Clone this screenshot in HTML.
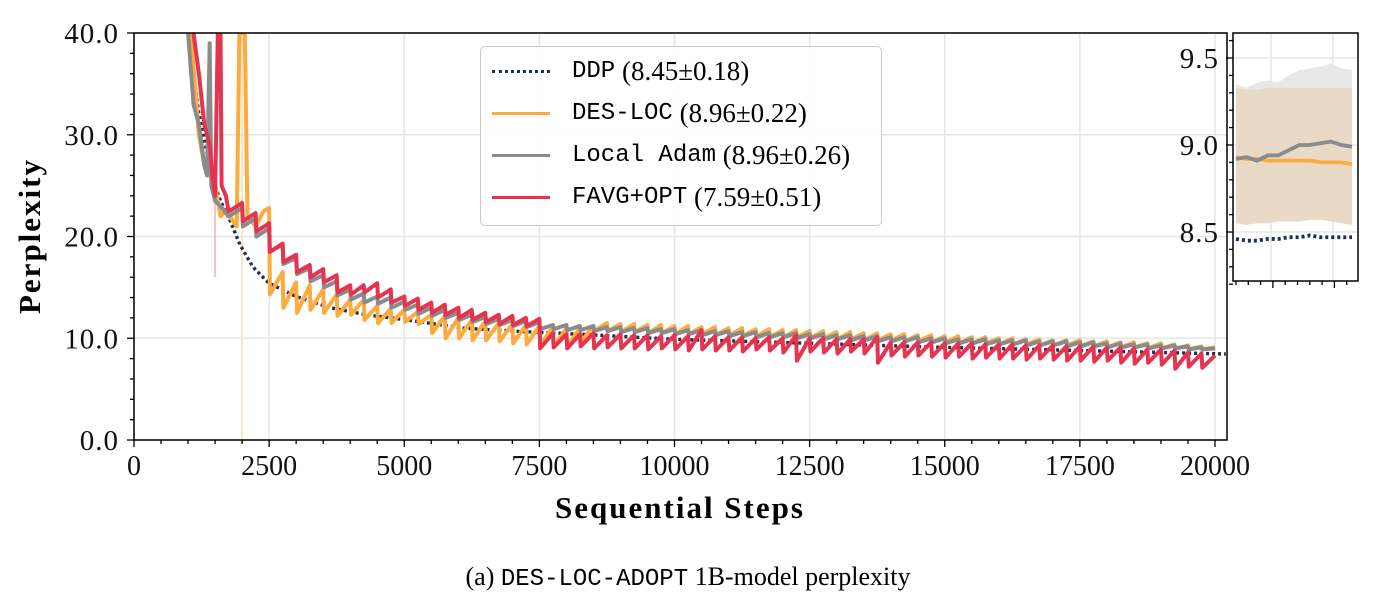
<!DOCTYPE html>
<html><head><meta charset="utf-8">
<style>
html,body{margin:0;padding:0;background:#fff;}
svg{display:block;}
.tk{font-family:"Liberation Serif",serif;font-size:29px;fill:#111;}
.tkx{font-family:"Liberation Serif",serif;font-size:28px;fill:#111;}
.lm{font-family:'Liberation Mono',monospace;font-size:24px;vertical-align:middle;}
.ls{font-family:'Liberation Serif',serif;font-size:27px;vertical-align:middle;}
.ln{display:inline-block;width:58px;vertical-align:middle;}
</style></head>
<body>
<svg id="chart" width="1376" height="597" xmlns="http://www.w3.org/2000/svg"></svg>
<script>
// ---- data ----
const xTicks = [0,2500,5000,7500,10000,12500,15000,17500,20000];
const yTicks = [0,10,20,30,40];
const ddpSteps = [1000,1100,1200,1300,1400,1500,1600,1800,1960,2200,2500,3000,3630,4300,5050,6090,7000,8250,10000,12500,15000,17500,20200];
const ddpVals  = [40,36,32,29.5,27,25,23.5,21.3,19.2,17,15.4,14.1,13.0,12.3,11.8,11.0,10.7,10.4,9.9,9.5,9.1,8.8,8.45];
const redEarlySteps = [1100,1200,1300,1400,1450,1500,1550,1600,1620,1700,1750];
const redEarlyVals  = [40,36,31,29,26,24,40,40,25,24,22.5];
const grayEarlySteps = [1000,1100,1200,1300,1350,1400,1430,1500,1600,1750];
const grayEarlyVals  = [40,33,31,27,26,39,25,23.5,23,22];
const orangeEarlySteps = [1050,1200,1300,1400,1500,1600,1700,1900,1950,2050,2100,2250,2400,2500];
const orangeEarlyVals  = [40,30,27,26,25,22,22.5,21,40,40,22,21,22.5,22.8];
const toothPeriod = 250;
const redStart = 1750;
const redLow = [22.5,21.5,20.5,18.5,17.5,16.5,16.0,15.5,14.5,14.3,14.5,14.0,13.5,13.2,12.8,12.5,12.3,12.0,11.8,11.6,11.4,11.3,11.2,
 9.0,9.1,9.0,9.2,9.0,9.1,9.0,9.0,8.9,9.0,
 8.9,8.8,8.9,8.8,8.8,8.7,8.9,8.8,8.6,7.8,
 8.7,8.6,8.5,8.7,8.5,7.6,8.3,8.2,8.3,8.2,
 8.1,8.2,8.0,8.1,8.0,8.0,7.9,8.0,7.9,7.8,
 7.8,7.7,7.8,7.6,7.5,7.6,7.4,7.0,7.2,7.1];
const redHigh = [23.3,22.3,21.3,19.3,18.2,17.2,16.8,16.2,15.2,15.2,15.4,14.8,14.1,13.9,13.5,13.3,13.0,12.8,12.5,12.3,12.2,12.0,11.9,
 10.5,10.4,10.4,10.5,10.3,10.4,10.3,10.3,10.2,10.3,
 10.2,10.8,10.2,10.1,10.1,10.0,10.1,10.0,10.3,10.0,
 10.0,9.9,9.9,9.9,10.1,9.6,9.6,9.6,9.6,9.5,
 9.5,9.5,9.4,9.4,9.4,9.3,9.3,9.3,9.2,9.2,
 9.2,9.1,9.1,9.0,8.9,8.9,8.8,8.6,8.5,8.3];
const grayStart = 1750;
const grayLow = [22,21,20,18.5,17.3,16.3,15.6,15.0,14.2,13.8,13.5,13.4,13.0,12.8,12.4,12.2,12.0,11.8,11.6,11.4,11.3,11.2,11.1,
 10.9,10.9,10.8,10.8,10.7,10.7,10.6,10.6,10.5,10.5,
 10.4,10.4,10.3,10.3,10.2,10.2,10.1,10.1,10.1,10.0,
 10.0,9.9,9.9,9.8,9.8,9.7,9.7,9.7,9.6,9.6,
 9.5,9.5,9.5,9.4,9.4,9.4,9.3,9.3,9.3,9.2,
 9.2,9.2,9.1,9.1,9.1,9.0,9.0,9.0,8.9,8.9];
const grayHigh = [22.8,21.8,20.8,19.2,17.9,16.9,16.2,15.6,14.8,14.4,14.1,14.0,13.6,13.3,13.0,12.8,12.5,12.3,12.1,11.9,11.8,11.7,11.6,
 11.3,11.3,11.2,11.2,11.1,11.1,11.0,11.0,10.9,10.9,
 10.8,10.8,10.7,10.7,10.6,10.6,10.5,10.5,10.5,10.4,
 10.4,10.3,10.3,10.2,10.2,10.1,10.1,10.1,10.0,10.0,
 9.9,9.9,9.9,9.8,9.8,9.8,9.7,9.7,9.7,9.6,
 9.6,9.5,9.5,9.4,9.4,9.3,9.3,9.2,9.1,9.0];
const orangeStart = 2500;
const orangeLow = [14.3,13.0,12.5,12.8,12.5,12.2,12.3,11.8,11.5,11.5,11.6,11.4,10.5,10.0,10.0,9.8,9.8,9.7,9.5,9.4,9.3,9.2,9.2,9.6,
 10.7,10.7,10.6,10.6,10.5,10.5,10.4,10.4,10.4,10.3,
 10.3,10.2,10.2,10.1,10.1,10.1,10.0,10.0,9.9,9.9,
 9.8,9.8,9.8,9.7,9.7,9.6,9.6,9.5,9.5,9.5,
 9.4,9.4,9.4,9.3,9.3,9.3,9.2,9.2,9.1,9.1,
 9.1,9.0,9.0,9.0,8.9,8.9];
const orangeHigh = [16.5,15.5,15.2,14.8,14.3,13.8,13.8,13.2,12.9,12.8,12.6,12.3,12.2,12.0,11.8,11.7,11.5,11.4,11.3,11.2,11.1,11.0,11.0,11.2,
 11.5,11.4,11.4,11.3,11.3,11.2,11.2,11.1,11.1,11.0,
 11.0,10.9,10.9,10.8,10.8,10.7,10.7,10.6,10.6,10.5,
 10.5,10.4,10.4,10.3,10.3,10.2,10.2,10.1,10.1,10.0,
 10.0,9.9,9.9,9.8,9.8,9.8,9.7,9.7,9.6,9.6,
 9.5,9.5,9.4,9.3,9.2,9.1];
// inset
const insetTicks = [8.5,9.0,9.5];
const insetGray   = [8.92,8.93,8.91,8.94,8.94,8.97,9.0,9.0,9.01,9.02,9.0,8.99];
const insetOrange = [8.93,8.92,8.92,8.91,8.91,8.91,8.91,8.91,8.9,8.9,8.9,8.89];
const insetDDP    = [8.46,8.45,8.45,8.46,8.46,8.47,8.47,8.48,8.47,8.47,8.47,8.47];
const insetOrangeUp = [9.33,9.32,9.32,9.33,9.33,9.33,9.33,9.33,9.33,9.33,9.33,9.33];
const insetOrangeLo = [8.55,8.54,8.55,8.55,8.56,8.56,8.56,8.57,8.57,8.56,8.55,8.54];
const insetGrayUp = [9.35,9.33,9.36,9.37,9.36,9.40,9.43,9.44,9.45,9.47,9.44,9.43];

// ---- scales ----
const L=134,R=1227,T=33,B=440;
const X=s=>L+s*1081/20000;
const Y=v=>B-v*10.175;
const IL=1233,IR=1358,IT=33,IB=281;
const IX=i=>1236+i*(1352-1236)/11;
const IY=v=>145-(v-9.0)*174;

const NS='http://www.w3.org/2000/svg';
const svg=document.getElementById('chart');
function mk(tag,attrs,parent){const e=document.createElementNS(NS,tag);for(const k in attrs)e.setAttribute(k,attrs[k]);(parent||svg).appendChild(e);return e;}

const defs=mk('defs',{});
const cp=mk('clipPath',{id:'mainclip'},defs);mk('rect',{x:L,y:T,width:R-L,height:B-T},cp);
const cp2=mk('clipPath',{id:'insclip'},defs);mk('rect',{x:IL,y:IT,width:IR-IL,height:IB-IT},cp2);

const grid=mk('g',{});


xTicks.forEach(t=>mk('line',{x1:X(t),x2:X(t),y1:T,y2:B,stroke:'#e6e6e6','stroke-width':1.5},grid));
yTicks.forEach(t=>mk('line',{x1:L,x2:R,y1:Y(t),y2:Y(t),stroke:'#e6e6e6','stroke-width':1.5},grid));

const plot=mk('g',{'clip-path':'url(#mainclip)'});


mk('line',{x1:X(2000),x2:X(2000),y1:Y(40),y2:Y(0),stroke:'#fde3c0','stroke-width':2},plot);
mk('line',{x1:X(1500),x2:X(1500),y1:Y(25),y2:Y(16),stroke:'#f2b0bb','stroke-width':1.5},plot);

function pts(steps,vals){return steps.map((s,i)=>X(s).toFixed(1)+','+Y(vals[i]).toFixed(1));}
function teeth(start,low,high){const p=[];for(let i=0;i<low.length;i++){const s=start+i*toothPeriod;p.push(X(s+15).toFixed(1)+','+Y(low[i]).toFixed(1));p.push(X(s+toothPeriod).toFixed(1)+','+Y(high[i]).toFixed(1));}return p;}

const ddp=mk('polyline',{points:pts(ddpSteps,ddpVals).join(' '),fill:'none',stroke:'#1f2f4d','stroke-width':3.4,'stroke-dasharray':'3,3'},plot);


const or=mk('polyline',{points:pts(orangeEarlySteps,orangeEarlyVals).concat(teeth(orangeStart,orangeLow,orangeHigh)).join(' '),fill:'none',stroke:'#fbab40','stroke-width':4,'stroke-linejoin':'round'},plot);


const gr=mk('polyline',{points:pts(grayEarlySteps,grayEarlyVals).concat(teeth(grayStart,grayLow,grayHigh)).join(' '),fill:'none',stroke:'#8b8b8b','stroke-width':4,'stroke-linejoin':'round'},plot);


const rd=mk('polyline',{points:pts(redEarlySteps,redEarlyVals).concat(teeth(redStart,redLow,redHigh)).join(' '),fill:'none',stroke:'#e5344f','stroke-width':4,'stroke-linejoin':'round'},plot);



mk('rect',{x:L,y:T,width:R-L,height:B-T,fill:'none',stroke:'#000','stroke-width':1.5});
for(let s=0;s<=20000;s+=500){const maj=s%2500===0;mk('line',{x1:X(s),x2:X(s),y1:B,y2:B+(maj?7:4),stroke:'#000','stroke-width':1.3});}
for(let v=0;v<=40;v+=2){const maj=v%10===0;mk('line',{x1:L,x2:L-(maj?7:4),y1:Y(v),y2:Y(v),stroke:'#000','stroke-width':1.3});}
xTicks.forEach(t=>{const e=mk('text',{x:X(t),y:475,'text-anchor':'middle',class:'tkx'});e.textContent=t;

});
yTicks.forEach(t=>{const e=mk('text',{x:119,y:Y(t)+10,'text-anchor':'end',class:'tk','letter-spacing':'1'});e.textContent=t.toFixed(1);

});

const ins=mk('g',{});


mk('rect',{x:IL,y:IT,width:IR-IL,height:IB-IT,fill:'#fff'},ins);
[1271,1333].forEach(x=>mk('line',{x1:x,x2:x,y1:IT,y2:IB,stroke:'#e6e6e6','stroke-width':1.5},ins));
insetTicks.forEach(v=>mk('line',{x1:IL,x2:IR,y1:IY(v),y2:IY(v),stroke:'#e6e6e6','stroke-width':1.5},ins));
const ig=mk('g',{'clip-path':'url(#insclip)'},ins);
const band=(up,lo,fill)=>mk('polygon',{points:up.map((v,i)=>IX(i)+','+IY(v)).concat(lo.map((v,i)=>IX(i)+','+IY(v)).reverse()).join(' '),fill:fill},ig);
const gb=band(insetGrayUp,insetOrangeUp,'#e8e8e8');


const ob=band(insetOrangeUp,insetOrangeLo,'#e9dac8');


const il=(vals,stroke,dash)=>mk('polyline',{points:vals.map((v,i)=>IX(i)+','+IY(v)).join(' '),fill:'none',stroke:stroke,'stroke-width':3.8,'stroke-dasharray':dash||'none'},ig);
const idd=il(insetDDP,'#1f2f4d','3,3');


const io=il(insetOrange,'#fbab40');


const igr=il(insetGray,'#8b8b8b');


mk('rect',{x:IL,y:IT,width:IR-IL,height:IB-IT,fill:'none',stroke:'#000','stroke-width':1.5},ins);
for(let v=8.2;v<=9.65;v+=0.1){const maj=Math.abs(v*2-Math.round(v*2))<0.01;mk('line',{x1:IL,x2:IL-(maj?7:4),y1:IY(v),y2:IY(v),stroke:'#000','stroke-width':1.3},ins);}
for(let i=0;i<10;i++){const x=1236+i*12.3;const maj=(i===3||i===8);mk('line',{x1:x,x2:x,y1:IB,y2:IB+(maj?7:4),stroke:'#000','stroke-width':1.3},ins);}
insetTicks.forEach(v=>{const e=mk('text',{x:1219,y:IY(v)+10,'text-anchor':'end',class:'tk','letter-spacing':'1'},ins);e.textContent=v.toFixed(1);

});
</script>

<div style="position:absolute;left:480px;top:46px;width:402px;height:180px;border:1.5px solid #ccc;border-radius:5px;background:rgba(255,255,255,0.9);box-sizing:border-box;">
 <div style="position:absolute;left:11px;top:9px;white-space:nowrap;">
  <span class="ln" style="border-top:3.5px dotted #1f2f4d;"></span>
  <span class="lm" style="margin-left:18px;">DDP</span><span class="ls"> (8.45±0.18)</span></div>
 <div style="position:absolute;left:11px;top:51px;white-space:nowrap;">
  <span class="ln" style="border-top:3.5px solid #fbab40;"></span>
  <span class="lm" style="margin-left:18px;">DES-LOC</span><span class="ls"> (8.96±0.22)</span></div>
 <div style="position:absolute;left:11px;top:93px;white-space:nowrap;">
  <span class="ln" style="border-top:3.5px solid #8b8b8b;"></span>
  <span class="lm" style="margin-left:18px;">Local Adam</span><span class="ls"> (8.96±0.26)</span></div>
 <div style="position:absolute;left:11px;top:135px;white-space:nowrap;">
  <span class="ln" style="border-top:3.5px solid #e5344f;"></span>
  <span class="lm" style="margin-left:18px;">FAVG+OPT</span><span class="ls"> (7.59±0.51)</span></div>
</div>

<div style="position:absolute;left:380px;top:490px;width:600px;text-align:center;font-family:'Liberation Serif',serif;font-weight:bold;font-size:31px;letter-spacing:2px;">Sequential Steps</div>
<div style="position:absolute;left:-70px;top:218px;width:200px;text-align:center;font-family:'Liberation Serif',serif;font-weight:bold;font-size:31px;letter-spacing:2px;transform:rotate(-90deg);">Perplexity</div>
<div style="position:absolute;left:188px;top:562px;width:1000px;text-align:center;font-family:'Liberation Serif',serif;font-size:26px;">(a) <span style="font-family:'Liberation Mono',monospace;font-size:24px;">DES-LOC-ADOPT</span> 1B-model perplexity</div>
</body></html>
